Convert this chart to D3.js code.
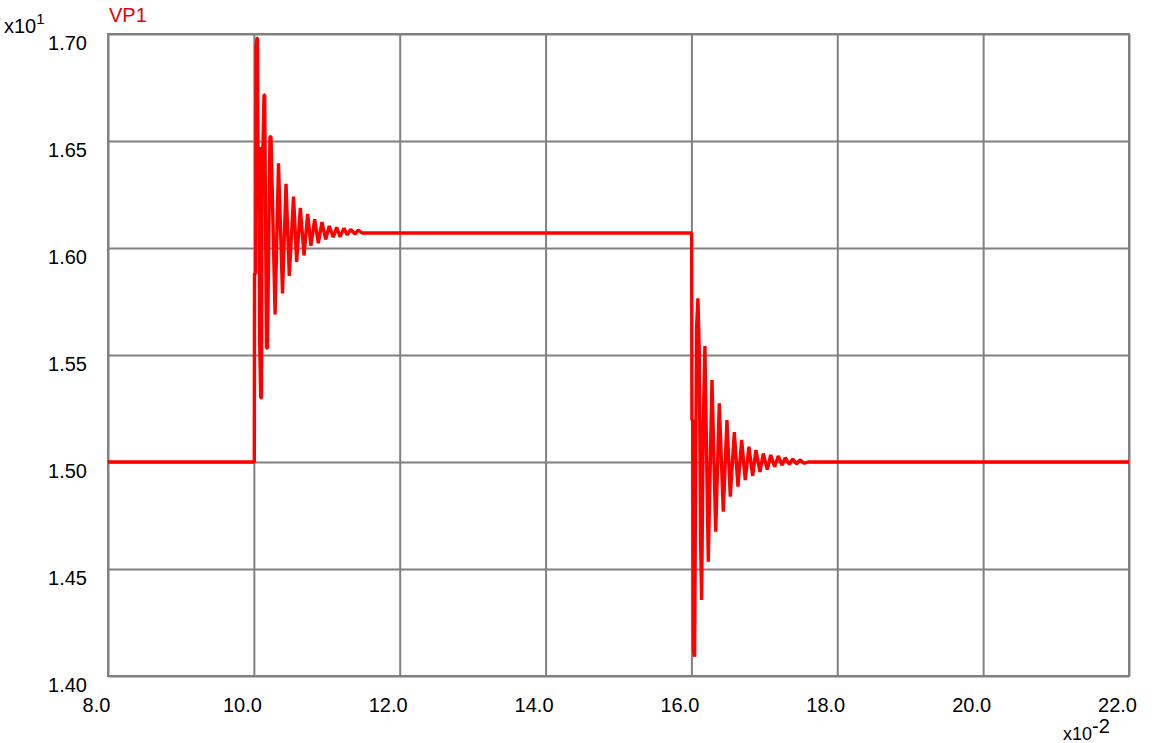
<!DOCTYPE html>
<html>
<head>
<meta charset="utf-8">
<script src="https://cdn.jsdelivr.net/npm/d3@7"></script>
<style>
  body { margin: 0; background: #fff; }
  text { font-family: "Liberation Sans", Arial, sans-serif; }
</style>
</head>
<body>
<svg id="chart" width="1159" height="743"></svg>
<script>
// time in units of 1e-2 s, voltage in units of 1e1
var xTicks = [8, 10, 12, 14, 16, 18, 20, 22];
var yTicks = [1.40, 1.45, 1.50, 1.55, 1.60, 1.65, 1.70];
var seriesName = 'VP1';

// step up at t = 10.0 and ringing
var riseT = [8.0, 10.006, 10.009, 10.025, 10.029, 10.043, 10.050, 10.057, 10.070, 10.080,
    10.094, 10.105, 10.112, 10.125, 10.139, 10.149, 10.153, 10.173, 10.187, 10.221,
    10.235, 10.291, 10.338, 10.393, 10.441, 10.486, 10.544, 10.587, 10.637, 10.688,
    10.738, 10.783, 10.834, 10.884, 10.934, 10.985, 11.034, 11.089, 11.136, 11.181,
    11.236, 11.281, 11.328, 11.387, 11.432, 11.483];
var riseV = [1.500, 1.500, 1.588, 1.588, 1.694, 1.698, 1.698, 1.647, 1.647, 1.556,
    1.530, 1.530, 1.647, 1.647, 1.6715, 1.6715, 1.6477, 1.5533, 1.5533, 1.652,
    1.652, 1.569, 1.6396, 1.5788, 1.630, 1.587, 1.624, 1.5935, 1.6187, 1.5965,
    1.6159, 1.601, 1.6134, 1.6022, 1.6121, 1.604, 1.6103, 1.605, 1.6097, 1.6053,
    1.6092, 1.6061, 1.6087, 1.6065, 1.6084, 1.607];

// step down at t = 16.0 and ringing
var fallT = [16.001, 16.003, 16.007, 16.018, 16.028, 16.044, 16.052, 16.071, 16.089, 16.107,
    16.127, 16.140, 16.162, 16.185, 16.231, 16.282, 16.333, 16.382, 16.437, 16.487,
    16.533, 16.588, 16.638, 16.689, 16.738, 16.789, 16.840, 16.885, 16.940, 16.985,
    17.040, 17.087, 17.141, 17.191, 17.242, 17.287, 17.342, 17.389, 17.443, 17.489,
    17.543, 17.60, 22.0];
var fallV = [1.607, 1.607, 1.5196, 1.5196, 1.4121, 1.409, 1.4598, 1.5632, 1.5765, 1.5523,
    1.4604, 1.4355, 1.518, 1.5542, 1.4534, 1.5383, 1.4674, 1.5274, 1.4768, 1.5196,
    1.4838, 1.514, 1.4885, 1.5103, 1.4916, 1.5071, 1.4935, 1.5056, 1.4953, 1.504,
    1.4965, 1.5033, 1.4978, 1.5028, 1.4985, 1.502, 1.4989, 1.5014, 1.4991, 1.501,
    1.4994, 1.500, 1.500];

var data = riseT.map(function(t, i) { return [t, riseV[i]]; })
    .concat(fallT.map(function(t, i) { return [t, fallV[i]]; }));

var margin = {left: 108, top: 34, right: 30, bottom: 67};
var svg = d3.select('#chart');
var W = +svg.attr('width'), H = +svg.attr('height');
var w = W - margin.left - margin.right,
    h = H - margin.top - margin.bottom;

var x = d3.scaleLinear().domain([8, 22]).range([0, w]);
var y = d3.scaleLinear().domain([1.40, 1.70]).range([h, 0]);

var g = svg.append('g')
    .attr('transform', 'translate(' + margin.left + ',' + margin.top + ')');

var gridColor = '#808080';

var xAxis = g.append('g')
    .attr('transform', 'translate(0,' + h + ')')
    .call(d3.axisBottom(x).tickValues(xTicks).tickFormat(d3.format('.1f'))
        .tickSizeInner(-h).tickSizeOuter(0).tickPadding(22));

var yAxis = g.append('g')
    .call(d3.axisLeft(y).tickValues(yTicks).tickFormat(d3.format('.2f'))
        .tickSizeInner(-w).tickSizeOuter(0).tickPadding(21));

[xAxis, yAxis].forEach(function(ax) {
    ax.select('.domain').remove();
    ax.selectAll('line').attr('stroke', gridColor).attr('stroke-width', 2);
    ax.selectAll('text')
        .attr('fill', '#000')
        .style('font-size', '20px')
        .style('font-family', '"Liberation Sans", Arial, sans-serif');
});
xAxis.selectAll('text').attr('dx', -12);
yAxis.selectAll('text').attr('dy', '0.75em');

g.append('rect')
    .attr('width', w).attr('height', h)
    .attr('fill', 'none')
    .attr('stroke', gridColor)
    .attr('stroke-width', 2);

var line = d3.line()
    .x(function(d) { return x(d[0]); })
    .y(function(d) { return y(d[1]); });

g.append('path')
    .datum(data)
    .attr('fill', 'none')
    .attr('stroke', '#ff0000')
    .attr('stroke-width', 3.4)
    .attr('stroke-linejoin', 'bevel')
    .attr('d', line);

// series label
svg.append('text')
    .attr('x', 109).attr('y', 22)
    .attr('fill', '#e8000b')
    .style('font-size', '20px')
    .text(seriesName);

// axis multipliers
var yMul = svg.append('text').attr('x', 4).attr('y', 33).style('font-size', '20px');
yMul.append('tspan').text('x10');
yMul.append('tspan').attr('dy', -9).style('font-size', '15px').text('1');

var xMul = svg.append('text').attr('x', 1063).attr('y', 740).style('font-size', '18px');
xMul.append('tspan').text('x10');
xMul.append('tspan').attr('dy', -7).style('font-size', '20px').text('-2');
</script>
</body>
</html>
